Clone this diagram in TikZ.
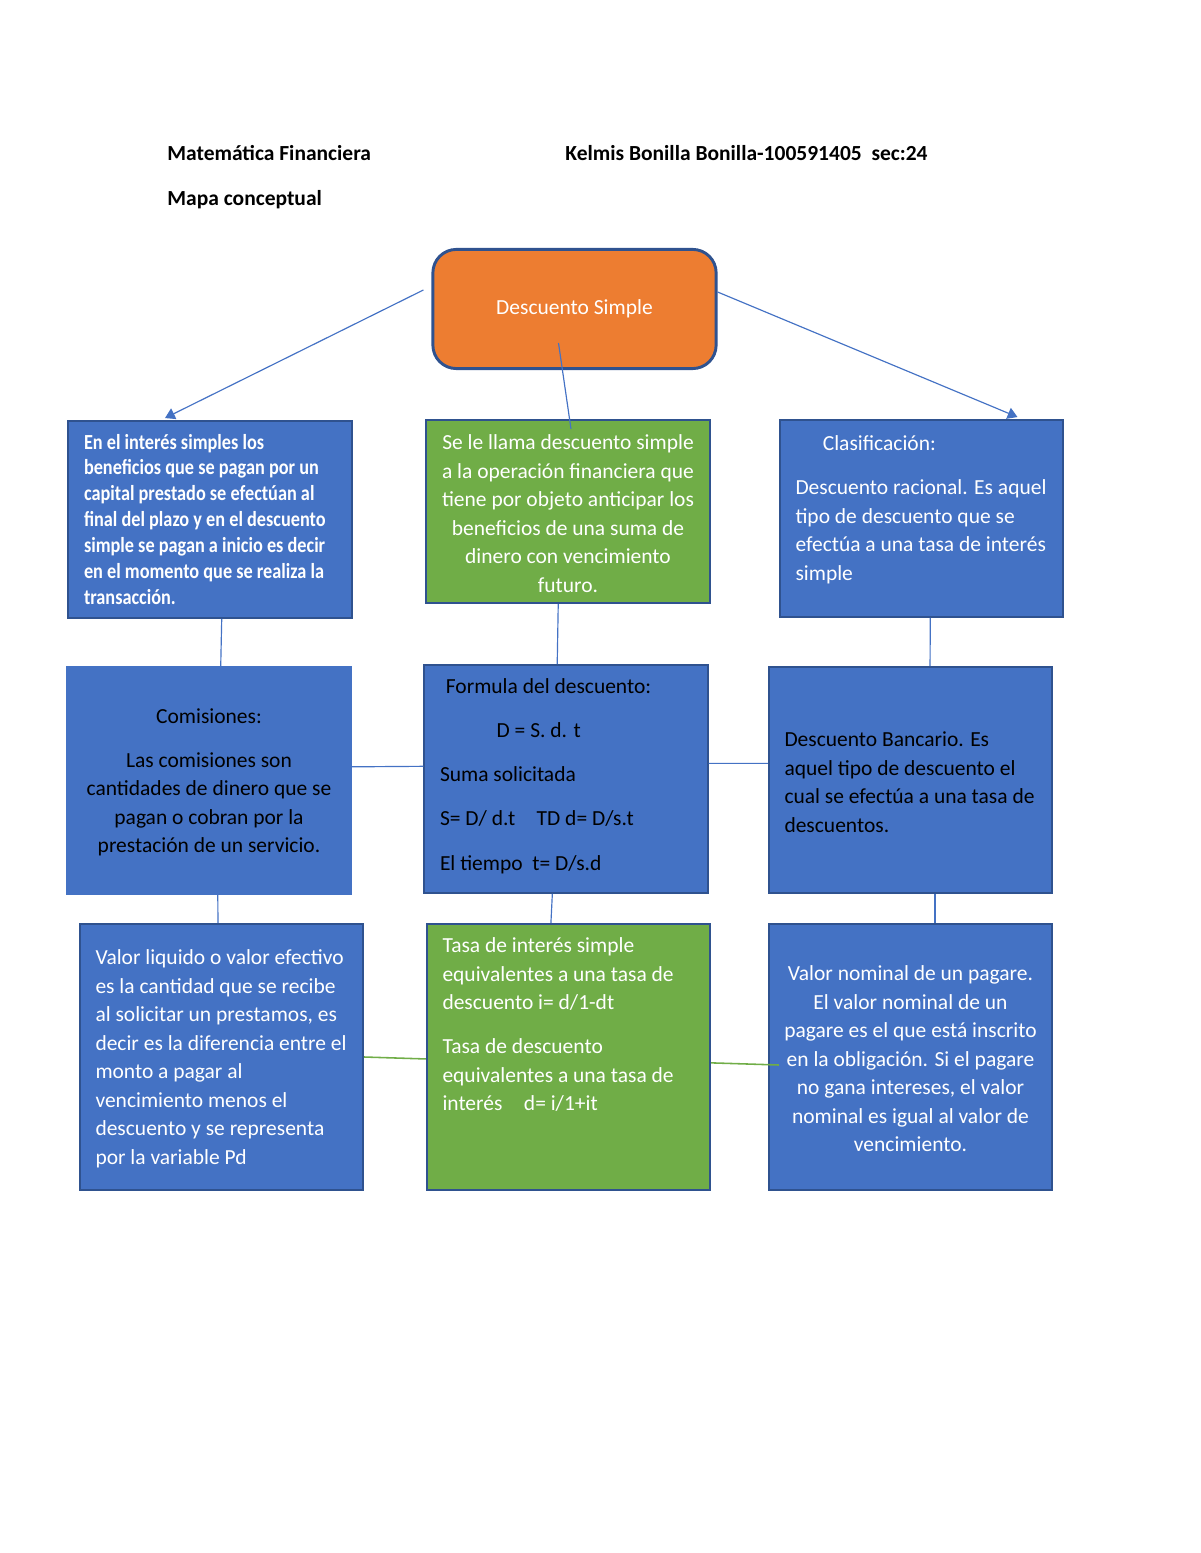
\documentclass[tikz,border=0pt]{standalone}
\usepackage{fontspec}
\setmainfont{Carlito}
\newfontfamily\condfont[FakeStretch=0.85]{Carlito}
\usepackage{xcolor}
\usetikzlibrary{arrows.meta, positioning}
\definecolor{boxblue}{HTML}{4472C4}
\definecolor{edgeblue}{HTML}{2F528F}
\definecolor{boxorange}{HTML}{ED7D31}
\definecolor{boxgreen}{HTML}{70AD47}

\begin{document}
\begin{tikzpicture}[
  x=0.5119pt, y=-0.5119pt,
  box/.style={rectangle, draw=edgeblue, line width=1pt, fill=boxblue, text width=135pt, inner xsep=5pt, inner ysep=0pt, align=flush left, text=white, font={\fontsize{11}{14.6}\selectfont}},
  greenbox/.style={box, fill=boxgreen},
  topbox/.style={rectangle, rounded corners=12pt, draw=edgeblue, line width=1.5pt, fill=boxorange, minimum width=145pt, minimum height=61pt, text=white, font={\fontsize{11}{14.6}\selectfont}},
  head/.style={anchor=base west, inner sep=0pt, font={\bfseries\fontsize{11}{14.6}\selectfont}},
  every edge/.style={draw=boxblue, line width=0.6pt},
  arrowlink/.style={-{Triangle[width=6pt,length=5pt]}},
  greenlink/.style={draw=boxgreen, line width=0.8pt}
  ]
\useasboundingbox (0,0) rectangle (1200,1553);

% Header
\node[head] (subject) at (167,161) {Matemática Financiera};
\node[head] (student) at (565,161) {Kelmis Bonilla Bonilla-100591405\ \ sec:24};
\node[head] (maptitle) at (167,206) {Mapa conceptual};

% Nodes
\node[topbox] (desc) at (574.5,309) {Descuento Simple};

\node[box, minimum height=100.8pt, font={\condfont\bfseries\fontsize{11}{13.3}\selectfont}] (interes) at (210,519.5)
  {\hspace*{3pt}En el interés simples los\\ \hspace*{3pt}beneficios que se pagan por un\\ \hspace*{3pt}capital prestado se efectúan al\\ \hspace*{3pt}final del plazo y en el descuento\\ \hspace*{3pt}simple se pagan a inicio es decir\\ \hspace*{3pt}en el momento que se realiza la\\ \hspace*{3pt}transacción.};
\node[greenbox, minimum height=93.7pt, align=flush center] (definicion) at (568,511.5)
  {Se le llama descuento simple\\ a la operación financiera que\\ tiene por objeto anticipar los\\ beneficios de una suma de\\ dinero con vencimiento\\ futuro.\par\vspace*{-2pt}};
\node[box, minimum height=100.8pt] (clasif) at (921.5,518.5)
  {\hspace*{17pt}Clasificación:\\[8pt] \hspace*{3pt}Descuento racional. Es aquel\\ \hspace*{3pt}tipo de descuento que se\\ \hspace*{3pt}efectúa a una tasa de interés\\ \hspace*{3pt}simple\par\vspace*{9pt}};

\node[box, draw=boxblue, minimum height=116.2pt, align=flush center, text=black] (comis) at (209,780.5)
  {Comisiones:\\[8pt] Las comisiones son\\ cantidades de dinero que se\\ pagan o cobran por la\\ prestación de un servicio.\par\vspace*{-2pt}};
\node[box, minimum height=116.7pt, text=black] (formula) at (566,779)
  {\hspace*{6pt}Formula del descuento:\\[8pt] \hspace*{32pt}D = S. d. t\\[8pt] \hspace*{3pt}Suma solicitada\\[8pt] \hspace*{3pt}S= D/ d.t\quad TD d= D/s.t\\[8pt] \hspace*{3pt}El tiempo\ \ t= D/s.d\par\vspace*{3pt}};
\node[box, minimum height=115.7pt, text=black] (bancario) at (910.5,780)
  {\hspace*{3pt}Descuento Bancario. Es\\ \hspace*{3pt}aquel tipo de descuento el\\ \hspace*{3pt}cual se efectúa a una tasa de\\ \hspace*{3pt}descuentos.\par\vspace*{-2pt}};

\node[box, minimum height=136.2pt] (liquido) at (221.5,1057)
  {\hspace*{3pt}Valor liquido o valor efectivo\\ \hspace*{3pt}es la cantidad que se recibe\\ \hspace*{3pt}al solicitar un prestamos, es\\ \hspace*{3pt}decir es la diferencia entre el\\ \hspace*{3pt}monto a pagar al\\ \hspace*{3pt}vencimiento menos el\\ \hspace*{3pt}descuento y se representa\\ \hspace*{3pt}por la variable Pd\par\vspace*{-2pt}};
\node[greenbox, minimum height=136.2pt] (tasas) at (568.5,1057)
  {\hspace*{3pt}Tasa de interés simple\\ \hspace*{3pt}equivalentes a una tasa de\\ \hspace*{3pt}descuento i= d/1-dt\\[8pt] \hspace*{3pt}Tasa de descuento\\ \hspace*{3pt}equivalentes a una tasa de\\ \hspace*{3pt}interés\quad d= i/1+it\par\vspace*{33pt}};
\node[box, minimum height=136.2pt, align=flush center] (nominal) at (910.5,1057)
  {Valor nominal de un pagare.\\ El valor nominal de un\\ pagare es el que está inscrito\\ en la obligación. Si el pagare\\ no gana intereses, el valor\\ nominal es igual al valor de\\ vencimiento.\par\vspace*{-2pt}};

% Edges
\path ([shift={(-8,-19)}]desc.west) edge[arrowlink] ([shift={(-45,-2)}]interes.north);
\path ([shift={(0,-17)}]desc.east) edge[arrowlink] ([shift={(96,-2)}]clasif.north);
\path ([shift={(-16,34)}]desc.center) edge ([shift={(3,10)}]definicion.north);

\path ([xshift=6pt]interes.south) edge ([xshift=6pt]comis.north);
\path ([xshift=-5pt]definicion.south) edge ([xshift=-4.5pt]formula.north);
\path ([xshift=4.5pt]clasif.south) edge ([xshift=10pt]bancario.north);

\path ([yshift=7pt]comis.east) edge ([yshift=6.5pt]formula.west);
\path ([yshift=8pt]formula.east) edge ([yshift=8.5pt]bancario.west);

\path ([xshift=4.5pt]comis.south) edge ([xshift=-1.8pt]liquido.north);
\path ([xshift=-7pt]formula.south) edge ([xshift=-9pt]tasas.north);
\path ([xshift=12.5pt]bancario.south) edge ([xshift=12.5pt]nominal.north);

\path (liquido.east) edge[greenlink] ([yshift=-1pt]tasas.west);
\path ([yshift=-3pt]tasas.east) edge[greenlink] ([shift={(11,8)}]nominal.west);

\end{tikzpicture}
\end{document}
